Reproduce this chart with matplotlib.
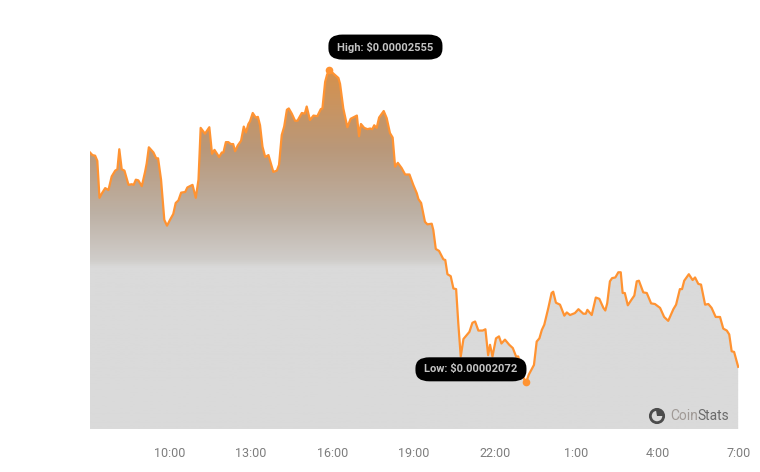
#!/usr/bin/env python3
"""
Price chart with a gradient area fill, high/low badges and a small logo.
Prices are stored in units of 1e-8 USD, hours are counted from 7:00.
"""

import matplotlib

matplotlib.use("Agg")
import matplotlib.pyplot as plt
import numpy as np
from matplotlib.colors import LinearSegmentedColormap
from matplotlib.patches import Circle, Wedge

plt.rcParams["font.family"] = ["Roboto", "DejaVu Sans"]

hours = [
    0.07, 0.16, 0.26, 0.34, 0.42, 0.51, 0.63, 0.75, 0.87, 1.00, 1.08, 1.15, 1.24, 1.34, 1.49, 1.61,
    1.68, 1.76, 1.85, 1.98, 2.10, 2.16, 2.24, 2.41, 2.51, 2.58, 2.69, 2.81, 2.91, 3.02, 3.14, 3.23,
    3.33, 3.43, 3.58, 3.66, 3.85, 3.97, 4.07, 4.15, 4.31, 4.47, 4.57, 4.66, 4.83, 4.93, 4.99, 5.08,
    5.17, 5.26, 5.35, 5.42, 5.52, 5.64, 5.74, 5.82, 5.91, 5.97, 6.07, 6.18, 6.26, 6.34, 6.43, 6.53,
    6.65, 6.83, 6.96, 7.04, 7.14, 7.23, 7.33, 7.40, 7.51, 7.63, 7.72, 7.88, 7.99, 8.06, 8.18, 8.31,
    8.45, 8.58, 8.64, 8.74, 8.81, 8.90, 9.04, 9.23, 9.29, 9.41, 9.56, 9.68, 9.91, 9.99, 10.06, 10.18, 10.30, 10.40,
    10.48, 10.55, 10.64, 10.73, 10.90, 11.01, 11.13, 11.23, 11.32, 11.42, 11.56, 11.69, 11.85, 11.99, 12.12, 12.18,
    12.28, 12.42, 12.51, 12.67, 12.73, 12.82, 12.94, 13.10, 13.17, 13.25, 13.37, 13.47, 13.57, 13.65, 13.74, 13.84,
    13.96, 14.06, 14.17, 14.27, 14.39, 14.55, 14.65, 14.75, 14.82, 14.91, 15.04, 15.15, 15.24, 15.37, 15.53, 15.66,
    15.78, 15.86, 16.03, 16.15, 16.25, 16.44, 16.54, 16.64, 16.73, 16.82, 16.97, 17.09, 17.15, 17.25, 17.40, 17.56,
    17.65, 17.77, 17.95, 18.08, 18.26, 18.35, 18.41, 18.57, 18.72, 18.85, 19.00, 19.07, 19.14, 19.24, 19.32, 19.44,
    19.55, 19.64, 19.71, 19.79, 19.90, 20.04, 20.14, 20.23, 20.31, 20.47, 20.60, 20.76, 20.90, 21.09, 21.24, 21.39,
    21.58, 21.68, 21.82, 21.90, 21.98, 22.15, 22.29, 22.38, 22.50, 22.60, 22.75, 22.87, 22.99, 23.14, 23.30, 23.42,
    23.55, 23.64, 23.73, 23.82, 23.97,
]
prices = [
    2427, 2423, 2422, 2414, 2357, 2364, 2372, 2369, 2390, 2399, 2401, 2432, 2401, 2399, 2377, 2378,
    2377, 2385, 2384, 2375, 2397, 2410, 2435, 2427, 2418, 2418, 2385, 2323, 2314, 2323, 2332, 2349,
    2353, 2365, 2366, 2373, 2377, 2357, 2385, 2465, 2456, 2466, 2425, 2431, 2420, 2427, 2427, 2443,
    2443, 2440, 2440, 2429, 2438, 2445, 2467, 2458, 2471, 2475, 2488, 2481, 2482, 2469, 2436, 2420,
    2423, 2397, 2399, 2408, 2454, 2467, 2493, 2495, 2487, 2476, 2476, 2488, 2487, 2498, 2477, 2484,
    2483, 2494, 2495, 2536, 2547, 2555, 2549, 2542, 2533, 2495, 2466, 2479, 2484, 2452, 2471, 2465, 2463, 2464,
    2463, 2469, 2465, 2481, 2491, 2480, 2457, 2450, 2405, 2411, 2403, 2393, 2393, 2377, 2364, 2355,
    2349, 2320, 2316, 2317, 2307, 2278, 2275, 2262, 2261, 2239, 2236, 2217, 2216, 2163, 2112, 2139,
    2145, 2150, 2164, 2166, 2152, 2152, 2154, 2114, 2130, 2112, 2140, 2143, 2132, 2138, 2130, 2125,
    2112, 2112, 2081, 2072, 2084, 2099, 2135, 2140, 2153, 2161, 2187, 2210, 2212, 2195, 2192, 2175,
    2180, 2176, 2179, 2185, 2178, 2178, 2184, 2176, 2203, 2201, 2187, 2183, 2194, 2228, 2233, 2234,
    2242, 2242, 2210, 2210, 2191, 2200, 2206, 2228, 2229, 2211, 2210, 2194, 2193, 2187, 2173, 2167,
    2185, 2192, 2216, 2216, 2229, 2239, 2230, 2234, 2224, 2223, 2192, 2193, 2187, 2173, 2173, 2155,
    2152, 2146, 2120, 2119, 2096,
]
tick_hours = [3, 6, 9, 12, 15, 18, 21, 24]
tick_labels = ["10:00", "13:00", "16:00", "19:00", "22:00", "1:00", "4:00", "7:00"]
high_label = "High: $0.00002555"
low_label = "Low: $0.00002072"

LINE_COLOR = "#ff9332"
FILL_GRAY = "#dadada"
W, H = 760, 472

fig = plt.figure(figsize=(W / 100, H / 100), dpi=100)
ax = fig.add_axes([90 / W, (H - 429) / H, 649 / W, 419 / H])
ax.set_xlim(0.07, 24)
ax.set_ylim(2000, 2647)

# gradient only lives above the 2249 level, solid gray below it
grad_cmap = LinearSegmentedColormap.from_list(
    "area",
    [(0.0, FILL_GRAY), (0.449, FILL_GRAY), (0.47, "#d0cdca"), (0.6, "#bdb1a5"), (0.78, "#b9987a"), (1.0, "#d6914c")],
)
levels = np.linspace(0, 1, 512).reshape(-1, 1)
img = ax.imshow(
    levels,
    extent=(0.07, 24, 2000, 2647),
    origin="lower",
    aspect="auto",
    cmap=grad_cmap,
    vmin=0,
    vmax=0.857,
    zorder=1,
)
area = ax.fill_between(hours, prices, 2000, color="none", linewidth=0)
img.set_clip_path(area.get_paths()[0], transform=ax.transData)

ax.plot(hours, prices, color=LINE_COLOR, linewidth=1.6, zorder=3, solid_joinstyle="round")

# high and low markers with pill shaped badges
i_high = int(np.argmax(prices))
i_low = int(np.argmin(prices))
ax.plot([hours[i_high], hours[i_low]], [prices[i_high], prices[i_low]], "o", color=LINE_COLOR, ms=5.5, zorder=4, mew=0)

badge = dict(boxstyle="round,pad=0.8,rounding_size=1.25", facecolor="black", edgecolor="none", mutation_aspect=0.78)
ax.annotate(
    high_label, (hours[i_high], prices[i_high]), xytext=(40.3, 16.2), textcoords="offset points",
    ha="center", va="center", fontsize=8, fontweight="bold", color="#c4c4c4", bbox=badge, zorder=6,
)
ax.annotate(
    low_label, (hours[i_low], prices[i_low]), xytext=(-39.7, 9.4), textcoords="offset points",
    ha="center", va="center", fontsize=8, fontweight="bold", color="#c4c4c4", bbox=badge, zorder=6,
)

ax.set_xticks(tick_hours)
ax.set_xticklabels(tick_labels, fontsize=9, color="#7d7d7d")
ax.tick_params(axis="x", length=0, pad=13)
ax.set_yticks([])
for spine in ax.spines.values():
    spine.set_visible(False)

# logo and brand name in the corner
logo = fig.add_axes([648 / W, (H - 425) / H, 18 / W, 18 / H])
logo.set_xlim(-1, 1)
logo.set_ylim(-1, 1)
logo.axis("off")
logo.add_patch(Circle((0, 0), 0.74, facecolor="none", edgecolor="#4c4c4c", linewidth=2.0))
logo.add_patch(Wedge((0, 0), 0.72, 0, 100, facecolor="#4c4c4c", edgecolor="none"))
fig.text(670 / W, (H - 416) / H, "Coin", fontsize=10, color="#a09a96", va="center", ha="left")
fig.text(729 / W, (H - 416) / H, "Stats", fontsize=9.8, color="#6a6a6a", va="center", ha="right")

fig.savefig("out.png", dpi=100)
plt.close(fig)
